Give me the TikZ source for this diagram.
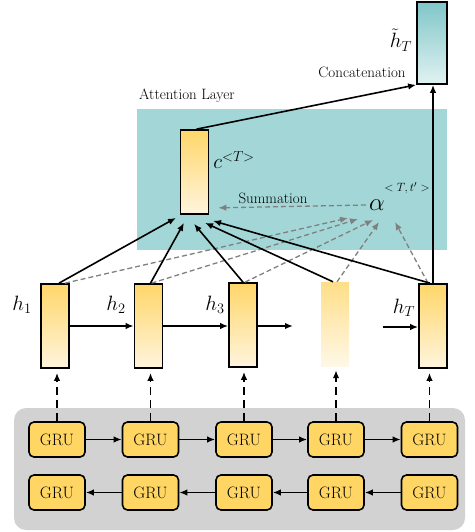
\documentclass[tikz,border=0pt]{standalone}
\usetikzlibrary{arrows.meta}
\definecolor{tealbg}{RGB}{163,215,215}
\definecolor{ytop}{RGB}{255,214,105}
\definecolor{ybot}{RGB}{255,245,222}
\definecolor{ttop}{RGB}{128,198,200}
\definecolor{tbot}{RGB}{226,242,242}
\definecolor{grufill}{RGB}{255,214,100}
\definecolor{graybg}{RGB}{210,210,210}
\definecolor{garrcol}{RGB}{128,128,128}
\begin{document}
\begin{tikzpicture}[x=1pt,y=-1pt,
  hbox/.style={draw=black, line width=1.7pt, top color=ytop, bottom color=ybot, minimum width=28pt, minimum height=84pt, inner sep=0pt},
  hfade/.style={top color=ytop!80, bottom color=ybot!70, minimum width=28pt, minimum height=84pt, inner sep=0pt},
  gru/.style={draw=black, line width=1.6pt, fill=grufill, rounded corners=5pt, minimum width=56pt, minimum height=35pt, inner sep=0pt, font=\fontsize{16.5}{18}\selectfont},
  arr/.style={-{Latex[length=8pt,width=6.5pt]}, line width=1.6pt},
  garr/.style={-{Latex[length=8pt,width=6.5pt]}, draw=garrcol, line width=1.3pt, dash pattern=on 5pt off 3pt},
  darr/.style={-{Latex[length=8pt,width=6.5pt]}, line width=1.7pt, dash pattern=on 8pt off 5pt},
  lbl/.style={font=\fontsize{15}{17}\selectfont, inner sep=0pt},
  mlbl/.style={font=\fontsize{22}{24}\selectfont, inner sep=0pt}
]
\useasboundingbox (0,0) rectangle (474,532);
% backgrounds
\fill[tealbg] (137,109) rectangle (447,250);
\fill[graybg, rounded corners=12pt] (14,408) rectangle (465,530);
\node[lbl, anchor=west] (attl) at (139,96) {Attention Layer};
% boxes
\node[hbox] (h1) at (55,326) {};
\node[hbox] (h2) at (148.5,326) {};
\node[hbox] (h3) at (243,325) {};
\node[hfade] (h4) at (335,324) {};
\node[hbox] (hT) at (433,326) {};
\node[hbox] (c) at (194.5,172) {};
\node[draw=black, line width=1.7pt, top color=ttop, bottom color=tbot, minimum width=30pt, minimum height=82pt, inner sep=0pt] (hTt) at (432,43) {};
% labels
\node[mlbl] (lh1) at (22,305) {$h_1$};
\node[mlbl] (lh2) at (116,305) {$h_2$};
\node[mlbl] (lh3) at (215,305) {$h_3$};
\node[mlbl] (lhT) at (404,308) {$h_T$};
\node[mlbl] (lhTt) at (401,40) {$\tilde{h}_T$};
\node[mlbl] (lc) at (234,160) {$c^{<T>}$};
\node[lbl] (concat) at (362,72) {Concatenation};
\node[lbl] (summ) at (273,198) {Summation};
\node[font=\fontsize{28}{30}\selectfont, inner sep=0pt] (alpha) at (377,205) {$\alpha$};
\node[font=\fontsize{13}{15}\selectfont, inner sep=0pt] (asup) at (407,188) {$<T,t'>$};
% GRUs
\foreach \i/\x in {1/57,2/150.5,3/244,4/336,5/429.5}{
  \node[gru] (ga\i) at (\x,439.5) {GRU};
  \node[gru] (gb\i) at (\x,492.5) {GRU};
}
\foreach \i/\j in {1/2,2/3,3/4,4/5}{
  \draw[arr] (ga\i) -- (ga\j);
  \draw[arr] (gb\j) -- (gb\i);
}
% dashed up arrows
\foreach \i/\h in {1/h1,2/h2,3/h3,4/h4,5/hT}{
  \draw[darr, shorten >=4pt] (ga\i.north) -- (ga\i.north |- \h.south);
}
% horizontal h arrows
\coordinate (h3out) at (293,326);
\coordinate (hTin) at (383,327);
\draw[arr] (h1.east) -- (h2.west);
\draw[arr] (h2.east) -- (h2.east -| h3.west);
\draw[arr] (h3.east |- h3out) -- (h3out);
\draw[arr] (hTin) -- (hT.west |- hTin);
% gray dashed to alpha
\draw[garr] ([xshift=10pt]h1.north) -- ([shift={(-29,13)}]alpha.center);
\draw[garr] ([xshift=3pt]h2.north) -- ([shift={(-19,14)}]alpha.center);
\draw[garr] ([xshift=2pt]h3.north) -- ([shift={(-4,15)}]alpha.center);
\draw[garr] ([xshift=2pt]h4.north) -- ([shift={(2,17)}]alpha.center);
\draw[garr] ([xshift=-5pt]hT.north) -- ([shift={(18,17)}]alpha.center);
\draw[garr] ([xshift=-3pt]alpha.west) -- ([shift={(9,-7)}]c.south east);
% solid to c
\draw[arr] ([xshift=4pt]h1.north) -- ([shift={(-18.5,3)}]c.south);
\draw[arr] ([xshift=2pt]h2.north) -- ([shift={(-10.5,8)}]c.south);
\draw[arr] (h3.north) -- ([shift={(-0.5,9)}]c.south);
\draw[arr] ([xshift=-2pt]h4.north) -- ([shift={(10.5,8)}]c.south);
\draw[arr] ([xshift=-3pt]hT.north) -- ([shift={(18.5,6)}]c.south);
% to concatenation
\draw[arr] (hT.north) -- (hT.north |- hTt.south);
\draw[arr] ([xshift=2pt]c.north) -- (hTt.south west);
\end{tikzpicture}
\end{document}
